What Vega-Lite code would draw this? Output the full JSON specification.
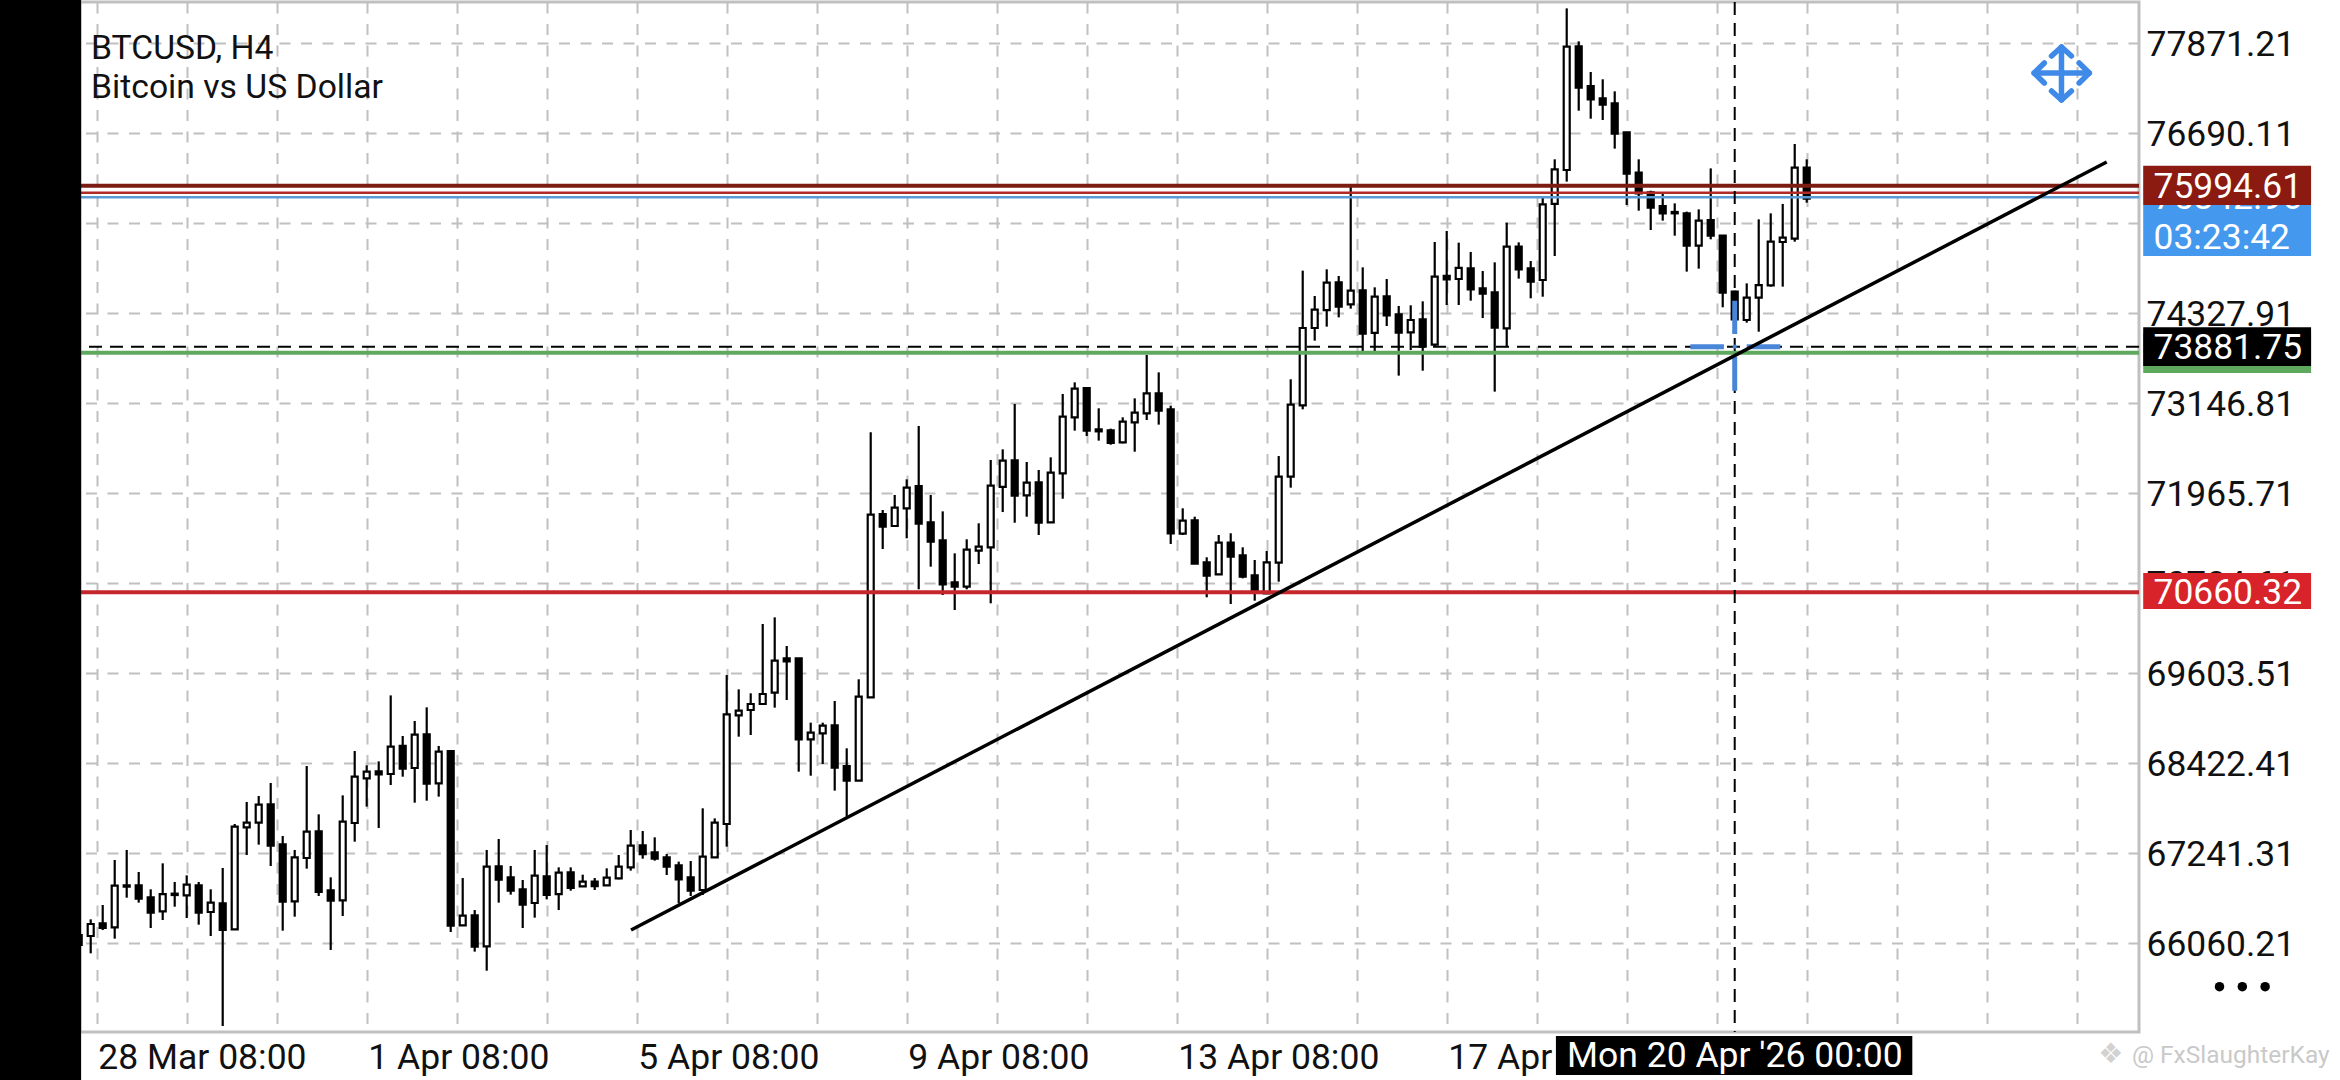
{"$schema":"https://vega.github.io/schema/vega-lite/v6.json","width":2059,"height":1030,"autosize":"none","padding":{"left":80,"top":2,"right":201,"bottom":48},"background":"#ffffff","config":{"view":{"stroke":"#c0c0c0","strokeWidth":3},"scale":{"continuousPadding":0}},
"data":{"values":[
{"i":-1,"o":66030,"h":66200,"l":66000,"c":66161},{"i":0,"o":66148,"h":66367,"l":65921,"c":66306},{"i":1,"o":66314,"h":66555,"l":66227,"c":66253},{"i":2,"o":66262,"h":67146,"l":66113,"c":66809},{"i":3,"o":66813,"h":67277,"l":66651,"c":66796},{"i":4,"o":66813,"h":66988,"l":66586,"c":66638},{"i":5,"o":66656,"h":66761,"l":66253,"c":66454},{"i":6,"o":66472,"h":67102,"l":66358,"c":66699},{"i":7,"o":66704,"h":66857,"l":66533,"c":66686},{"i":8,"o":66682,"h":66944,"l":66384,"c":66822},{"i":9,"o":66813,"h":66857,"l":66297,"c":66454},
{"i":10,"o":66463,"h":66761,"l":66148,"c":66586},{"i":11,"o":66577,"h":67041,"l":64967,"c":66227},{"i":12,"o":66236,"h":67618,"l":66236,"c":67583},{"i":13,"o":67574,"h":67907,"l":67211,"c":67636},{"i":14,"o":67636,"h":67986,"l":67347,"c":67872},{"i":15,"o":67876,"h":68156,"l":67067,"c":67334},{"i":16,"o":67351,"h":67461,"l":66218,"c":66599},{"i":17,"o":66603,"h":67277,"l":66402,"c":67181},{"i":18,"o":67172,"h":68379,"l":67032,"c":67517},{"i":19,"o":67522,"h":67745,"l":66673,"c":66726},
{"i":20,"o":66748,"h":66918,"l":65965,"c":66612},{"i":21,"o":66616,"h":67994,"l":66411,"c":67649},{"i":22,"o":67631,"h":68576,"l":67386,"c":68239},{"i":23,"o":68217,"h":68388,"l":67846,"c":68305},{"i":24,"o":68309,"h":68440,"l":67566,"c":68270},{"i":25,"o":68274,"h":69306,"l":68130,"c":68633},{"i":26,"o":68642,"h":68773,"l":68239,"c":68344},{"i":27,"o":68353,"h":68970,"l":67898,"c":68790},{"i":28,"o":68795,"h":69149,"l":67924,"c":68147},{"i":29,"o":68152,"h":68642,"l":67977,"c":68567},
{"i":30,"o":68576,"h":68576,"l":66201,"c":66284},{"i":31,"o":66288,"h":66909,"l":66288,"c":66415},{"i":32,"o":66419,"h":66489,"l":65943,"c":66008},{"i":33,"o":66013,"h":67277,"l":65693,"c":67058},{"i":34,"o":67063,"h":67421,"l":66586,"c":66888},{"i":35,"o":66918,"h":67067,"l":66691,"c":66743},{"i":36,"o":66761,"h":66883,"l":66253,"c":66559},{"i":37,"o":66581,"h":67277,"l":66389,"c":66940},{"i":38,"o":66931,"h":67342,"l":66629,"c":66686},{"i":39,"o":66699,"h":67049,"l":66489,"c":66979},
{"i":40,"o":66984,"h":67049,"l":66743,"c":66778},{"i":41,"o":66800,"h":66953,"l":66800,"c":66861},{"i":42,"o":66861,"h":66909,"l":66752,"c":66804},{"i":43,"o":66813,"h":67036,"l":66813,"c":66914},{"i":44,"o":66905,"h":67211,"l":66892,"c":67058},{"i":45,"o":67049,"h":67539,"l":67006,"c":67334},{"i":46,"o":67338,"h":67526,"l":67163,"c":67224},{"i":47,"o":67246,"h":67443,"l":67137,"c":67163},{"i":48,"o":67181,"h":67224,"l":66949,"c":67058},{"i":49,"o":67076,"h":67124,"l":66577,"c":66892},
{"i":50,"o":66918,"h":67132,"l":66673,"c":66743},{"i":51,"o":66752,"h":67824,"l":66686,"c":67189},{"i":52,"o":67181,"h":67692,"l":67181,"c":67636},{"i":53,"o":67618,"h":69573,"l":67321,"c":69058},{"i":54,"o":69044,"h":69385,"l":68764,"c":69105},{"i":55,"o":69114,"h":69333,"l":68786,"c":69193},{"i":56,"o":69193,"h":70243,"l":69193,"c":69324},{"i":57,"o":69342,"h":70330,"l":69145,"c":69762},{"i":58,"o":69792,"h":69954,"l":69245,"c":69753},{"i":59,"o":69792,"h":69792,"l":68305,"c":68729},
{"i":60,"o":68729,"h":68948,"l":68252,"c":68817},{"i":61,"o":68808,"h":68948,"l":68406,"c":68909},{"i":62,"o":68913,"h":69232,"l":68056,"c":68357},{"i":63,"o":68379,"h":68611,"l":67714,"c":68187},{"i":64,"o":68187,"h":69517,"l":68187,"c":69289},{"i":65,"o":69280,"h":72758,"l":69280,"c":71677},{"i":66,"o":71686,"h":71739,"l":71227,"c":71520},{"i":67,"o":71529,"h":71936,"l":71529,"c":71769},{"i":68,"o":71761,"h":72141,"l":71367,"c":72032},{"i":69,"o":72054,"h":72841,"l":70698,"c":71559},
{"i":70,"o":71577,"h":71936,"l":70995,"c":71323},{"i":71,"o":71341,"h":71721,"l":70623,"c":70763},{"i":72,"o":70790,"h":71170,"l":70426,"c":70733},{"i":73,"o":70733,"h":71354,"l":70698,"c":71218},{"i":74,"o":71205,"h":71564,"l":71030,"c":71258},{"i":75,"o":71249,"h":72395,"l":70514,"c":72058},{"i":76,"o":72041,"h":72535,"l":71712,"c":72386},{"i":77,"o":72390,"h":73130,"l":71572,"c":71927},{"i":78,"o":71931,"h":72369,"l":71651,"c":72097},{"i":79,"o":72102,"h":72264,"l":71411,"c":71572},
{"i":80,"o":71577,"h":72430,"l":71577,"c":72229},{"i":81,"o":72220,"h":73261,"l":71887,"c":72964},{"i":82,"o":72955,"h":73414,"l":72780,"c":73331},{"i":83,"o":73340,"h":73340,"l":72710,"c":72780},{"i":84,"o":72797,"h":73073,"l":72649,"c":72771},{"i":85,"o":72784,"h":72806,"l":72596,"c":72618},{"i":86,"o":72627,"h":72955,"l":72614,"c":72898},{"i":87,"o":72889,"h":73204,"l":72504,"c":73016},{"i":88,"o":73007,"h":73773,"l":72920,"c":73270},{"i":89,"o":73270,"h":73545,"l":72859,"c":73042},
{"i":90,"o":73060,"h":73108,"l":71293,"c":71433},{"i":91,"o":71428,"h":71761,"l":71411,"c":71599},{"i":92,"o":71603,"h":71651,"l":71035,"c":71035},{"i":93,"o":71052,"h":71118,"l":70593,"c":70877},{"i":94,"o":70895,"h":71411,"l":70895,"c":71310},{"i":95,"o":71310,"h":71433,"l":70505,"c":71126},{"i":96,"o":71144,"h":71249,"l":70842,"c":70864},{"i":97,"o":70881,"h":71083,"l":70549,"c":70667},{"i":98,"o":70645,"h":71201,"l":70645,"c":71052},{"i":99,"o":71048,"h":72447,"l":70798,"c":72176},
{"i":100,"o":72176,"h":73454,"l":72032,"c":73121},{"i":101,"o":73112,"h":74880,"l":73060,"c":74127},{"i":102,"o":74127,"h":74547,"l":73961,"c":74368},{"i":103,"o":74363,"h":74897,"l":74145,"c":74722},{"i":104,"o":74727,"h":74810,"l":74267,"c":74407},{"i":105,"o":74438,"h":76004,"l":74381,"c":74617},{"i":106,"o":74622,"h":74923,"l":73817,"c":74053},{"i":107,"o":74062,"h":74661,"l":73817,"c":74538},{"i":108,"o":74543,"h":74770,"l":74153,"c":74293},{"i":109,"o":74307,"h":74416,"l":73502,"c":74066},
{"i":110,"o":74070,"h":74425,"l":73838,"c":74232},{"i":111,"o":74241,"h":74477,"l":73567,"c":73882},{"i":112,"o":73909,"h":75256,"l":73891,"c":74801},{"i":113,"o":74810,"h":75400,"l":74429,"c":74766},{"i":114,"o":74770,"h":75247,"l":74429,"c":74915},{"i":115,"o":74910,"h":75125,"l":74486,"c":74635},{"i":116,"o":74648,"h":74875,"l":74258,"c":74578},{"i":117,"o":74595,"h":74989,"l":73292,"c":74132},{"i":118,"o":74123,"h":75510,"l":73891,"c":75195},{"i":119,"o":75195,"h":75251,"l":74775,"c":74897},
{"i":120,"o":74910,"h":75006,"l":74517,"c":74735},{"i":121,"o":74757,"h":75851,"l":74538,"c":75750},{"i":122,"o":75755,"h":76341,"l":75072,"c":76209},{"i":123,"o":76201,"h":78322,"l":76048,"c":77819},{"i":124,"o":77824,"h":77889,"l":76979,"c":77281},{"i":125,"o":77303,"h":77487,"l":76874,"c":77128},{"i":126,"o":77141,"h":77391,"l":76857,"c":77058},{"i":127,"o":77076,"h":77233,"l":76481,"c":76678},{"i":128,"o":76695,"h":76695,"l":75741,"c":76153},{"i":129,"o":76166,"h":76341,"l":75667,"c":75894},
{"i":130,"o":75908,"h":75929,"l":75413,"c":75706},{"i":131,"o":75728,"h":75894,"l":75536,"c":75632},{"i":132,"o":75650,"h":75763,"l":75339,"c":75632},{"i":133,"o":75632,"h":75654,"l":74867,"c":75208},{"i":134,"o":75208,"h":75684,"l":74906,"c":75536},{"i":135,"o":75544,"h":76222,"l":75291,"c":75339},{"i":136,"o":75339,"h":75339,"l":74399,"c":74591},{"i":137,"o":74604,"h":74617,"l":74223,"c":74241},{"i":138,"o":74232,"h":74713,"l":74197,"c":74525},{"i":139,"o":74525,"h":75553,"l":74079,"c":74691},
{"i":140,"o":74687,"h":75632,"l":74670,"c":75260},{"i":141,"o":75256,"h":75755,"l":74670,"c":75313},{"i":142,"o":75300,"h":76542,"l":75260,"c":76231},{"i":143,"o":76231,"h":76341,"l":75772,"c":75825}
]},
"layer":[
{"mark":{"type":"rule","stroke":"#000000","strokeWidth":2.2,"clip":true},"encoding":{
"x":{"field":"i","type":"quantitative","scale":{"domain":[-0.892,170.69],"nice":false,"zero":false},"axis":{"values":[0.51,8.01,15.51,23.01,30.51,38.01,45.51,53.01,60.51,68.01,75.51,83.01,90.51,98.01,105.51,113.01,120.51,128.01,135.51,143.01,150.51,158.01,165.51],"grid":true,"gridDash":[11,10.5],"gridColor":"#c0c0c0","gridWidth":2,"ticks":false,"domain":false,"title":null,"labelExpr":"datum.value===0.51?'28 Mar 08:00':datum.value===23.01?'1 Apr 08:00':datum.value===45.51?'5 Apr 08:00':datum.value===68.01?'9 Apr 08:00':datum.value===90.51?'13 Apr 08:00':datum.value===113.01?'17 Apr 08:00':''","labelAlign":"left","labelBaseline":"alphabetic","labelPadding":36,"labelOffset":1,"labelFont":"Roboto","labelFontSize":35.5,"labelColor":"#111111","labelOverlap":false,"labelFlush":false,"labelBound":false,"labelLimit":500}},
"y":{"field":"l","type":"quantitative","scale":{"domain":[64888.4,78405.4],"nice":false,"zero":false},"axis":{"orient":"right","values":[77871.21,76690.11,75509.01,74327.91,73146.81,71965.71,70784.61,69603.51,68422.41,67241.31,66060.21],"format":".2f","grid":true,"gridDash":[11,10.5],"gridColor":"#c0c0c0","gridWidth":2,"ticks":false,"domain":false,"title":null,"labelPadding":7,"labelOffset":1.5,"labelFont":"Roboto","labelFontSize":35.4,"labelColor":"#111111","labelBaseline":"middle","labelOverlap":false,"labelFlush":false,"labelBound":false,"labelLimit":500}},
"y2":{"field":"h"}}},
{"mark":{"type":"bar","orient":"vertical","size":6,"stroke":"#000000","strokeWidth":2.2,"clip":true},"encoding":{
"x":{"field":"i","type":"quantitative","scale":{"domain":[-0.892,170.69],"nice":false,"zero":false}},
"y":{"field":"o","type":"quantitative","scale":{"domain":[64888.4,78405.4],"nice":false,"zero":false}},
"y2":{"field":"c"},
"fill":{"condition":{"test":"datum.c>=datum.o","value":"#ffffff"},"value":"#000000"}}},
{"data":{"values":[{"level":"dark","p":75994.61},{"level":"green","p":73803},{"level":"red","p":70660.32}]},
"mark":{"type":"rule","strokeWidth":4},"encoding":{
"y":{"field":"p","type":"quantitative","scale":{"domain":[64888.4,78405.4],"nice":false,"zero":false}},
"stroke":{"field":"level","type":"nominal","scale":{"domain":["dark","thin","blue","green","red"],"range":["#7a1c12","#b02a2a","#5b9bd5","#5fa95f","#c4262b"]},"legend":null}}},
{"data":{"values":[{"level":"thin","p":75902},{"level":"blue","p":75842.96}]},
"mark":{"type":"rule","strokeWidth":2.5},"encoding":{
"y":{"field":"p","type":"quantitative","scale":{"domain":[64888.4,78405.4],"nice":false,"zero":false}},
"stroke":{"field":"level","type":"nominal","scale":{"domain":["dark","thin","blue","green","red"],"range":["#7a1c12","#b02a2a","#5b9bd5","#5fa95f","#c4262b"]},"legend":null}}},
{"data":{"values":[{"p":73881.75}]},"mark":{"type":"rule","stroke":"#000000","strokeWidth":2,"strokeDash":[13,8]},"encoding":{
"y":{"field":"p","type":"quantitative","scale":{"domain":[64888.4,78405.4],"nice":false,"zero":false}}}},
{"data":{"values":[{"i":137}]},"mark":{"type":"rule","stroke":"#000000","strokeWidth":2,"strokeDash":[13,8]},"encoding":{
"x":{"field":"i","type":"quantitative","scale":{"domain":[-0.892,170.69],"nice":false,"zero":false}}}},
{"data":{"values":[{"i":133.3,"i2":136.1,"p":73881.75},{"i":138.0,"i2":140.8,"p":73881.75}]},"mark":{"type":"rule","stroke":"#4a86d8","strokeWidth":5},"encoding":{
"x":{"field":"i","type":"quantitative","scale":{"domain":[-0.892,170.69],"nice":false,"zero":false}},"x2":{"field":"i2"},
"y":{"field":"p","type":"quantitative","scale":{"domain":[64888.4,78405.4],"nice":false,"zero":false}}}},
{"data":{"values":[{"i":137,"p":74485,"p2":74048},{"i":137,"p":73750,"p2":73304}]},"mark":{"type":"rule","stroke":"#4a86d8","strokeWidth":5},"encoding":{
"x":{"field":"i","type":"quantitative","scale":{"domain":[-0.892,170.69],"nice":false,"zero":false}},
"y":{"field":"p","type":"quantitative","scale":{"domain":[64888.4,78405.4],"nice":false,"zero":false}},"y2":{"field":"p2"}}},
{"data":{"values":[{"i":137,"p":73881.75}]},"mark":{"type":"point","filled":true,"fill":"#4a86d8","opacity":1,"size":18},"encoding":{
"x":{"field":"i","type":"quantitative","scale":{"domain":[-0.892,170.69],"nice":false,"zero":false}},
"y":{"field":"p","type":"quantitative","scale":{"domain":[64888.4,78405.4],"nice":false,"zero":false}}}},
{"data":{"values":[{"i":45.03,"p":66227},{"i":168.0,"p":76306}]},"mark":{"type":"line","stroke":"#000000","strokeWidth":3.5},"encoding":{
"x":{"field":"i","type":"quantitative","scale":{"domain":[-0.892,170.69],"nice":false,"zero":false}},
"y":{"field":"p","type":"quantitative","scale":{"domain":[64888.4,78405.4],"nice":false,"zero":false}}}},
{"data":{"values":[{"seg":"v","i":164.23,"p":77815,"n":1},{"seg":"v","i":164.23,"p":77119,"n":2},{"seg":"h","i":161.95,"p":77474,"n":1},{"seg":"h","i":166.55,"p":77474,"n":2},{"seg":"t","i":163.4,"p":77697,"n":1},{"seg":"t","i":164.23,"p":77815,"n":2},{"seg":"t","i":165.06,"p":77697,"n":3},{"seg":"b","i":163.4,"p":77237,"n":1},{"seg":"b","i":164.23,"p":77119,"n":2},{"seg":"b","i":165.06,"p":77237,"n":3},{"seg":"l","i":162.8,"p":77605,"n":1},{"seg":"l","i":161.95,"p":77474,"n":2},{"seg":"l","i":162.8,"p":77343,"n":3},{"seg":"r","i":165.7,"p":77605,"n":1},{"seg":"r","i":166.55,"p":77474,"n":2},{"seg":"r","i":165.7,"p":77343,"n":3}]},"mark":{"type":"line","stroke":"#3f8ae8","strokeWidth":5.5,"strokeCap":"round","strokeJoin":"round"},"encoding":{
"x":{"field":"i","type":"quantitative","scale":{"domain":[-0.892,170.69],"nice":false,"zero":false}},
"y":{"field":"p","type":"quantitative","scale":{"domain":[64888.4,78405.4],"nice":false,"zero":false}},
"detail":{"field":"seg","type":"nominal"},"order":{"field":"n","type":"quantitative"}}},
{"data":{"values":[{"badge":"green","i":171.04,"i2":185.03,"p":74061.5,"p2":73536.6},{"badge":"black","i":171.04,"i2":185.03,"p":74136,"p2":73628},{"badge":"blue","i":171.04,"i2":185.03,"p":75741,"p2":75072}]},"mark":{"type":"rect"},"encoding":{
"x":{"field":"i","type":"quantitative","scale":{"domain":[-0.892,170.69],"nice":false,"zero":false}},"x2":{"field":"i2"},
"y":{"field":"p","type":"quantitative","scale":{"domain":[64888.4,78405.4],"nice":false,"zero":false}},"y2":{"field":"p2"},
"fill":{"field":"badge","type":"nominal","scale":{"domain":["green","black","blue","darkred","red","date","strip"],"range":["#5fa95f","#000000","#4499ee","#8b1a10","#d8232a","#000000","#000000"]},"legend":null}}},
{"data":{"values":[{"i":171.9,"p":75842.96,"t":"75842.96"}]},"mark":{"type":"text","align":"left","baseline":"middle","font":"Roboto","fontSize":35.4,"dy":1,"fill":"#ffffff"},"encoding":{
"x":{"field":"i","type":"quantitative","scale":{"domain":[-0.892,170.69],"nice":false,"zero":false}},
"y":{"field":"p","type":"quantitative","scale":{"domain":[64888.4,78405.4],"nice":false,"zero":false}},"text":{"field":"t"}}},
{"data":{"values":[{"badge":"darkred","i":171.04,"i2":185.03,"p":76257,"p2":75741},{"badge":"red","i":171.04,"i2":185.03,"p":70912,"p2":70440},{"badge":"date","i":122.1,"i2":151.8,"p":64836,"p2":64324},{"badge":"strip","i":-7.56,"i2":-0.8,"p":78432,"p2":64258}]},"mark":{"type":"rect"},"encoding":{
"x":{"field":"i","type":"quantitative","scale":{"domain":[-0.892,170.69],"nice":false,"zero":false}},"x2":{"field":"i2"},
"y":{"field":"p","type":"quantitative","scale":{"domain":[64888.4,78405.4],"nice":false,"zero":false}},"y2":{"field":"p2"},
"fill":{"field":"badge","type":"nominal","scale":{"domain":["green","black","blue","darkred","red","date","strip"],"range":["#5fa95f","#000000","#4499ee","#8b1a10","#d8232a","#000000","#000000"]},"legend":null}}},
{"data":{"values":[{"i":171.9,"p":75994.61,"t":"75994.61"},{"i":171.9,"p":75322,"t":"03:23:42"},{"i":171.9,"p":73881.75,"t":"73881.75"},{"i":171.9,"p":70660.32,"t":"70660.32"}]},"mark":{"type":"text","align":"left","baseline":"middle","font":"Roboto","fontSize":35.4,"dy":1,"fill":"#ffffff"},"encoding":{
"x":{"field":"i","type":"quantitative","scale":{"domain":[-0.892,170.69],"nice":false,"zero":false}},
"y":{"field":"p","type":"quantitative","scale":{"domain":[64888.4,78405.4],"nice":false,"zero":false}},"text":{"field":"t"}}},
{"data":{"values":[{"i":123.03,"p":64433,"t":"Mon 20 Apr '26 00:00"}]},"mark":{"type":"text","align":"left","baseline":"alphabetic","font":"Roboto","fontSize":35.5,"fill":"#ffffff"},"encoding":{
"x":{"field":"i","type":"quantitative","scale":{"domain":[-0.892,170.69],"nice":false,"zero":false}},
"y":{"field":"p","type":"quantitative","scale":{"domain":[64888.4,78405.4],"nice":false,"zero":false}},"text":{"field":"t"}}},
{"data":{"values":[{"i":0.03,"p":77653,"t":"BTCUSD, H4"},{"i":0.03,"p":77146,"t":"Bitcoin vs US Dollar"}]},"mark":{"type":"text","align":"left","baseline":"alphabetic","font":"Roboto","fontSize":33.7,"fill":"#111111"},"encoding":{
"x":{"field":"i","type":"quantitative","scale":{"domain":[-0.892,170.69],"nice":false,"zero":false}},
"y":{"field":"p","type":"quantitative","scale":{"domain":[64888.4,78405.4],"nice":false,"zero":false}},"text":{"field":"t"}}},
{"data":{"values":[{"i":177.4,"p":65483},{"i":179.3,"p":65483},{"i":181.2,"p":65483}]},"mark":{"type":"point","filled":true,"fill":"#000000","opacity":1,"size":90},"encoding":{
"x":{"field":"i","type":"quantitative","scale":{"domain":[-0.892,170.69],"nice":false,"zero":false}},
"y":{"field":"p","type":"quantitative","scale":{"domain":[64888.4,78405.4],"nice":false,"zero":false}}}},
{"data":{"values":[{"i":167.3,"p":64488,"t":"❖"}]},"mark":{"type":"text","align":"left","baseline":"alphabetic","font":"DejaVu Sans","fontSize":28,"fill":"#d2d2d2"},"encoding":{
"x":{"field":"i","type":"quantitative","scale":{"domain":[-0.892,170.69],"nice":false,"zero":false}},
"y":{"field":"p","type":"quantitative","scale":{"domain":[64888.4,78405.4],"nice":false,"zero":false}},"text":{"field":"t"}}},
{"data":{"values":[{"i":170.1,"p":64488,"t":"@ FxSlaughterKay"}]},"mark":{"type":"text","align":"left","baseline":"alphabetic","font":"Roboto","fontSize":24.5,"fill":"#c9c9c9"},"encoding":{
"x":{"field":"i","type":"quantitative","scale":{"domain":[-0.892,170.69],"nice":false,"zero":false}},
"y":{"field":"p","type":"quantitative","scale":{"domain":[64888.4,78405.4],"nice":false,"zero":false}},"text":{"field":"t"}}}
]}
